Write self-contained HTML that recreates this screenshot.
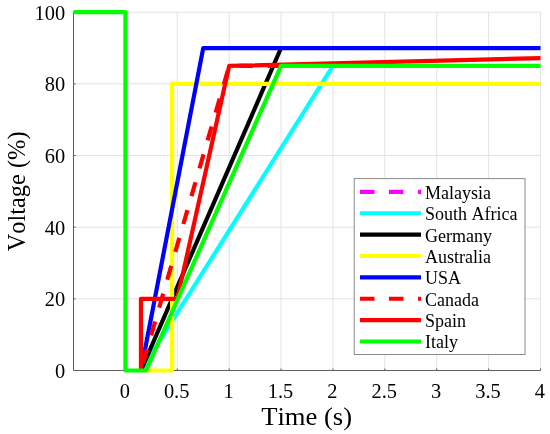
<!DOCTYPE html>
<html><head><meta charset="utf-8"><style>
html,body{margin:0;padding:0;background:#fff;}
svg{display:block;}
text{font-family:"Liberation Serif","Times New Roman",serif;fill:#000;font-kerning:none;}
</style></head><body>
<svg width="550" height="434" viewBox="0 0 550 434">
<rect x="0" y="0" width="550" height="434" fill="#fff"/>
<g stroke="#e3e3e3" stroke-width="1" fill="none"><line x1="125.39" y1="370.5" x2="125.39" y2="12.2"/><line x1="177.28" y1="370.5" x2="177.28" y2="12.2"/><line x1="229.17" y1="370.5" x2="229.17" y2="12.2"/><line x1="281.06" y1="370.5" x2="281.06" y2="12.2"/><line x1="332.94" y1="370.5" x2="332.94" y2="12.2"/><line x1="384.83" y1="370.5" x2="384.83" y2="12.2"/><line x1="436.72" y1="370.5" x2="436.72" y2="12.2"/><line x1="488.61" y1="370.5" x2="488.61" y2="12.2"/><line x1="540.50" y1="370.5" x2="540.50" y2="12.2"/><line x1="73.5" y1="298.84" x2="540.5" y2="298.84"/><line x1="73.5" y1="227.18" x2="540.5" y2="227.18"/><line x1="73.5" y1="155.52" x2="540.5" y2="155.52"/><line x1="73.5" y1="83.86" x2="540.5" y2="83.86"/><line x1="73.5" y1="12.20" x2="540.5" y2="12.20"/></g>
<g stroke="#5e5e5e" stroke-width="1" fill="none"><line x1="73.5" y1="370.5" x2="73.5" y2="12.2"/><line x1="73.5" y1="370.5" x2="540.5" y2="370.5"/></g>
<g stroke="#5e5e5e" stroke-width="1" fill="none"><line x1="125.39" y1="370.5" x2="125.39" y2="368.5"/><line x1="177.28" y1="370.5" x2="177.28" y2="368.5"/><line x1="229.17" y1="370.5" x2="229.17" y2="368.5"/><line x1="281.06" y1="370.5" x2="281.06" y2="368.5"/><line x1="332.94" y1="370.5" x2="332.94" y2="368.5"/><line x1="384.83" y1="370.5" x2="384.83" y2="368.5"/><line x1="436.72" y1="370.5" x2="436.72" y2="368.5"/><line x1="488.61" y1="370.5" x2="488.61" y2="368.5"/><line x1="540.50" y1="370.5" x2="540.50" y2="368.5"/><line x1="73.5" y1="298.84" x2="75.5" y2="298.84"/><line x1="73.5" y1="227.18" x2="75.5" y2="227.18"/><line x1="73.5" y1="155.52" x2="75.5" y2="155.52"/><line x1="73.5" y1="83.86" x2="75.5" y2="83.86"/><line x1="73.5" y1="12.20" x2="75.5" y2="12.20"/></g>
<g fill="none" stroke-width="4.2" stroke-linejoin="round">
<polyline stroke="#00ffff" points="140.96,370.50 332.94,65.94"/>
<polyline stroke="#000000" points="140.96,370.50 281.06,48.03"/>
<polyline stroke="#ffff00" points="146.14,370.50 172.09,370.50 172.09,83.86 540.50,83.86"/>
<polyline stroke="#0000ff" points="140.96,370.50 203.22,48.03 540.50,48.03"/>
<polyline stroke="#ff0000" stroke-dasharray="14.5 14.5" stroke-dashoffset="21.5" points="140.96,370.50 229.17,65.94 286.24,65.94"/>
<polyline stroke="#ff0000" points="140.96,370.50 140.96,298.84 177.28,298.84 229.17,65.94 540.50,58.06"/>
<polyline stroke="#00ff00" points="73.50,12.20 125.39,12.20 125.39,370.50 146.14,370.50 281.06,65.94 540.50,65.94"/>
</g>
<text x="65.2" y="378.00" text-anchor="end" font-size="20.4">0</text><text x="65.2" y="306.34" text-anchor="end" font-size="20.4">20</text><text x="65.2" y="234.68" text-anchor="end" font-size="20.4">40</text><text x="65.2" y="163.02" text-anchor="end" font-size="20.4">60</text><text x="65.2" y="91.36" text-anchor="end" font-size="20.4">80</text><text x="65.2" y="19.70" text-anchor="end" font-size="20.4">100</text><text x="124.79" y="398.3" text-anchor="middle" font-size="20.4">0</text><text x="176.68" y="398.3" text-anchor="middle" font-size="20.4">0.5</text><text x="228.57" y="398.3" text-anchor="middle" font-size="20.4">1</text><text x="280.46" y="398.3" text-anchor="middle" font-size="20.4">1.5</text><text x="332.34" y="398.3" text-anchor="middle" font-size="20.4">2</text><text x="384.23" y="398.3" text-anchor="middle" font-size="20.4">2.5</text><text x="436.12" y="398.3" text-anchor="middle" font-size="20.4">3</text><text x="488.01" y="398.3" text-anchor="middle" font-size="20.4">3.5</text><text x="539.90" y="398.3" text-anchor="middle" font-size="20.4">4</text>
<text transform="translate(306.6,425) scale(1.04,1)" text-anchor="middle" font-size="25.6">Time (s)</text>
<text transform="translate(25,191.4) rotate(-90)" text-anchor="middle" font-size="24.4">Voltage (%)</text>
<rect x="354.2" y="178.6" width="170.8" height="175.9" fill="#fff" stroke="#8a8a8a" stroke-width="1"/>
<line x1="360" y1="191.90" x2="421" y2="191.90" stroke="#ff00ff" stroke-width="4.2" stroke-dasharray="14.5 14.5"/><text x="425" y="198.90" font-size="18">Malaysia</text><line x1="360" y1="213.27" x2="421" y2="213.27" stroke="#00ffff" stroke-width="4.2"/><text x="425" y="220.27" font-size="18">South Africa</text><line x1="360" y1="234.64" x2="421" y2="234.64" stroke="#000000" stroke-width="4.2"/><text x="425" y="241.64" font-size="18">Germany</text><line x1="360" y1="256.01" x2="421" y2="256.01" stroke="#ffff00" stroke-width="4.2"/><text x="425" y="263.01" font-size="18">Australia</text><line x1="360" y1="277.38" x2="421" y2="277.38" stroke="#0000ff" stroke-width="4.2"/><text x="425" y="284.38" font-size="18">USA</text><line x1="360" y1="298.75" x2="421" y2="298.75" stroke="#ff0000" stroke-width="4.2" stroke-dasharray="14.5 14.5"/><text x="425" y="305.75" font-size="18">Canada</text><line x1="360" y1="320.12" x2="421" y2="320.12" stroke="#ff0000" stroke-width="4.2"/><text x="425" y="327.12" font-size="18">Spain</text><line x1="360" y1="341.49" x2="421" y2="341.49" stroke="#00ff00" stroke-width="4.2"/><text x="425" y="348.49" font-size="18">Italy</text>
</svg></body></html>
